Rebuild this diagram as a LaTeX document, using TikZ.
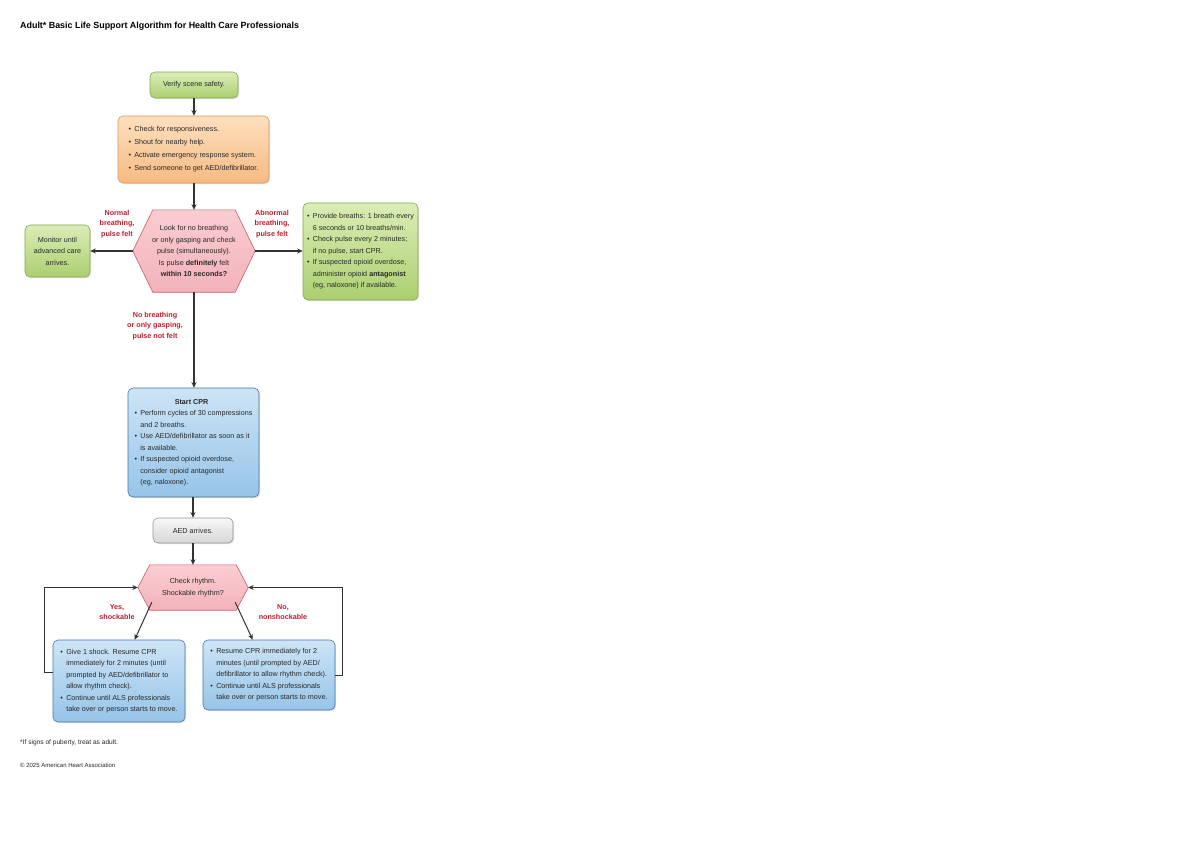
\documentclass[tikz,border=0pt]{standalone}
\usepackage{fontspec}
\setmainfont{Liberation Sans}
\usetikzlibrary{calc,arrows.meta,backgrounds,shadows}
\definecolor{txt}{RGB}{40,40,40}
\definecolor{labred}{RGB}{190,30,45}
\definecolor{arrc}{RGB}{50,50,50}
\definecolor{gtop}{RGB}{218,237,182}
\definecolor{gbot}{RGB}{172,207,112}
\definecolor{gbord}{RGB}{128,168,78}
\definecolor{otop}{RGB}{253,224,190}
\definecolor{obot}{RGB}{246,186,130}
\definecolor{obord}{RGB}{222,150,90}
\definecolor{btop}{RGB}{205,228,246}
\definecolor{bbot}{RGB}{150,196,232}
\definecolor{bbord}{RGB}{70,118,170}
\definecolor{ytop}{RGB}{248,248,248}
\definecolor{ybot}{RGB}{214,214,214}
\definecolor{ybord}{RGB}{150,150,150}
\definecolor{ptop}{RGB}{250,205,210}
\definecolor{pbot}{RGB}{242,178,186}
\definecolor{pbord}{RGB}{205,90,100}
\newcommand\bu{\makebox[5.8pt][l]{\textbullet}}
\newcommand\ii{\hspace*{5.8pt}}
\tikzset{
  box/.style={rounded corners=5pt, line width=0.6pt, text=txt, align=left,
    font=\fontsize{7.2}{11.5}\selectfont, inner sep=0pt,
    drop shadow={opacity=0.22, shadow xshift=1.2pt, shadow yshift=-1.2pt}},
  greenbox/.style={box, draw=gbord, top color=gtop, bottom color=gbot},
  orangebox/.style={box, draw=obord, top color=otop, bottom color=obot},
  bluebox/.style={box, draw=bbord, top color=btop, bottom color=bbot},
  graybox/.style={box, draw=ybord, top color=ytop, bottom color=ybot},
  hexnode/.style={inner sep=0pt, text=txt, align=center, font=\fontsize{7.2}{11.5}\selectfont},
  hexfill/.style={draw=pbord, line width=0.6pt, top color=ptop, bottom color=pbot},
  arr/.style={draw=arrc, line width=1.2pt, -{Stealth[length=5.5pt,width=5pt]}},
  lab/.style={text=labred, font=\bfseries\fontsize{7.2}{10.5}\selectfont, align=center, inner sep=0pt},
}
\begin{document}
\begin{tikzpicture}[x=1pt,y=-1pt]
\useasboundingbox (0,0) rectangle (1200,849);

\node[anchor=west, font=\bfseries\fontsize{8.9}{10}\selectfont, text=black, inner sep=0pt] (title) at (20,26)
  {Adult* Basic Life Support Algorithm for Health Care Professionals};

\node[greenbox, minimum width=88pt, minimum height=26pt, align=center] (verify) at (194,85) {Verify scene safety.};

\node[orangebox, minimum width=151pt, minimum height=67pt, font=\fontsize{7.2}{13}\selectfont] (check) at (193.5,149.5)
  {\bu Check for responsiveness.\\
   \bu Shout for nearby help.\\
   \bu Activate emergency response system.\\
   \bu Send someone to get AED/defibrillator.};

\node[hexnode, minimum width=122pt, minimum height=82pt] (look) at (194,251)
  {Look for no breathing\\ or only gasping and check\\ pulse (simultaneously).\\ Is pulse \textbf{definitely} felt\\ \textbf{within 10 seconds?}};

\node[greenbox, minimum width=65pt, minimum height=52pt, align=center] (monitor) at (57.5,251)
  {Monitor until\\ advanced care\\ arrives.};

\node[greenbox, minimum width=115pt, minimum height=97pt] (breaths) at (360.5,251.5)
  {\bu Provide breaths: 1 breath every\\
   \ii 6 seconds or 10 breaths/min.\\
   \bu Check pulse every 2 minutes;\\
   \ii if no pulse, start CPR.\\
   \bu If suspected opioid overdose,\\
   \ii administer opioid \textbf{antagonist}\\
   \ii (eg, naloxone) if available.};

\node[bluebox, minimum width=131pt, minimum height=109pt] (cpr) at (193.5,442.5)
  {\makebox[114pt][c]{\textbf{Start CPR}}\\
   \bu Perform cycles of 30 compressions\\
   \ii and 2 breaths.\\
   \bu Use AED/defibrillator as soon as it\\
   \ii is available.\\
   \bu If suspected opioid overdose,\\
   \ii consider opioid antagonist\\
   \ii (eg, naloxone).};

\node[graybox, minimum width=80pt, minimum height=25pt, align=center] (aed) at (193,530.5) {AED arrives.};

\node[hexnode, minimum width=110pt, minimum height=45pt] (rhythm) at (193,587.5)
  {Check rhythm.\\ Shockable rhythm?};

\node[bluebox, minimum width=132pt, minimum height=82pt] (shock) at (119,681)
  {\bu Give 1 shock. Resume CPR\\
   \ii immediately for 2 minutes (until\\
   \ii prompted by AED/defibrillator to\\
   \ii allow rhythm check).\\
   \bu Continue until ALS professionals\\
   \ii take over or person starts to move.};

\node[bluebox, minimum width=132pt, minimum height=70pt] (resume) at (269,675)
  {\bu Resume CPR immediately for 2\\
   \ii minutes (until prompted by AED/\\
   \ii defibrillator to allow rhythm check).\\
   \bu Continue until ALS professionals\\
   \ii take over or person starts to move.};

\begin{scope}[on background layer]
  \fill[white] (0,0) rectangle (1200,849);
  \path[hexfill] (look.west) -- ($(look.north west)+(20,0)$) -- ($(look.north east)+(-20,0)$)
    -- (look.east) -- ($(look.south east)+(-20,0)$) -- ($(look.south west)+(20,0)$) -- cycle;
  \path[hexfill] (rhythm.west) -- ($(rhythm.north west)+(12,0)$) -- ($(rhythm.north east)+(-12,0)$)
    -- (rhythm.east) -- ($(rhythm.south east)+(-12,0)$) -- ($(rhythm.south west)+(12,0)$) -- cycle;
\end{scope}

% labels
\node[lab] (lnormal) at (117,224) {Normal\\ breathing,\\ pulse felt};
\node[lab] (labnormal) at (272,224) {Abnormal\\ breathing,\\ pulse felt};
\node[lab] (lnobr) at (155,326) {No breathing\\ or only gasping,\\ pulse not felt};
\node[lab] (lyes) at (117,612) {Yes,\\ shockable};
\node[lab] (lno) at (283,612) {No,\\ nonshockable};

% connectors
\draw[arr] (verify.south) -- (check.north -| verify.south);
\draw[arr] (check.south -| look.north) -- (look.north);
\draw[arr] (look.west) -- (monitor.east);
\draw[arr] (look.east) -- (breaths.west |- look.east);
\draw[arr] (look.south) -- (cpr.north -| look.south);
\draw[arr] (cpr.south -| aed.north) -- (aed.north);
\draw[arr] (aed.south) -- (rhythm.north);

\coordinate (dl0) at ($(rhythm.south west)+(14,-8)$);
\coordinate (dl1) at ($(shock.north west)+(82,0)$);
\coordinate (dr0) at ($(rhythm.south east)+(-13,-8)$);
\coordinate (dr1) at ($(resume.north west)+(50,0)$);
\draw[arr, line width=1pt] (dl0) -- (dl1);
\draw[arr, line width=1pt] (dr0) -- (dr1);

\coordinate (ls) at ($(shock.west)+(0,-9)$);
\draw[arr, line width=1pt] (ls) -- ++(-8,0) |- (rhythm.west);
\draw[arr, line width=1pt] (resume.east) -- ++(7,0) |- (rhythm.east);

% footnotes
\node[anchor=west, inner sep=0pt, font=\fontsize{6.6}{8}\selectfont, text=txt] (foot) at (20,743)
  {*If signs of puberty, treat as adult.};
\node[anchor=west, inner sep=0pt, font=\fontsize{6}{7}\selectfont, text=txt] (copy) at (20,765)
  {© 2025 American Heart Association};
\end{tikzpicture}
\end{document}
